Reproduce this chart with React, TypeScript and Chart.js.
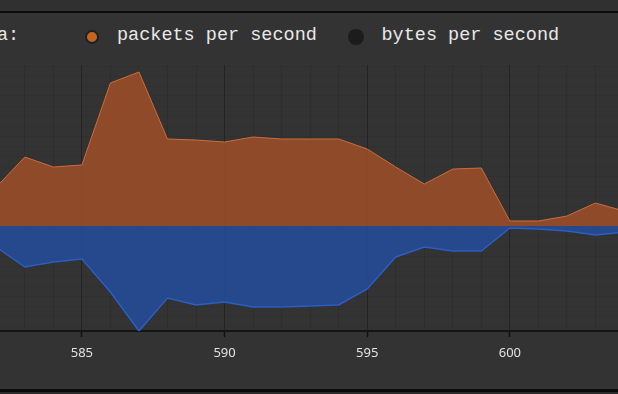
import React, { useEffect, useRef } from "react";
import { Chart, registerables } from "chart.js";

Chart.register(...registerables);

// time (seconds)
const seconds = [582, 583, 584, 585, 586, 587, 588, 589, 590, 591, 592, 593, 594, 595, 596, 597, 598, 599, 600, 601, 602, 603, 604];
// upper series
const packetsPerSecond = [39, 69, 59, 61, 143, 154, 87, 86, 84, 89, 87, 87, 87, 77, 59, 42, 57, 58, 5, 5, 10, 23, 15];
// lower series (drawn mirrored below zero)
const bytesPerSecond = [-21, -41, -36, -33, -66, -105, -72, -79, -76, -81, -81, -80, -79, -63, -31, -21, -25, -25, -2, -3, -5, -9, -6];

const xGridTicks = [583, 584, 585, 586, 587, 588, 589, 590, 591, 592, 593, 594, 595, 596, 597, 598, 599, 600, 601, 602, 603];
const xLabelTicks = [585, 590, 595, 600];
const yGridTicks = [-100, -90, -80, -70, -60, -50, -40, -30, -20, -10, 0, 10, 20, 30, 40, 50, 60, 70, 80, 90, 100, 110, 120, 130, 140, 150, 160];

const seriesLabels = ["packets per second", "bytes per second"];
const legendTitle = "a:";

export default function App() {
  const canvasRef = useRef<HTMLCanvasElement | null>(null);

  useEffect(() => {
    document.body.style.margin = "0";
    const canvas = canvasRef.current;
    if (!canvas) return;
    const chart = new Chart(canvas, {
      type: "line",
      data: {
        datasets: [
          {
            label: seriesLabels[0],
            data: seconds.map((s, i) => ({ x: s, y: packetsPerSecond[i] })),
            borderColor: "#c86e3e",
            borderWidth: 1,
            backgroundColor: "rgba(156,78,40,0.88)",
            fill: "origin",
            pointRadius: 0,
            tension: 0,
          },
          {
            label: seriesLabels[1],
            data: seconds.map((s, i) => ({ x: s, y: bytesPerSecond[i] })),
            borderColor: "#2b5fc2",
            borderWidth: 1.5,
            backgroundColor: "rgba(36,75,152,0.88)",
            fill: "origin",
            pointRadius: 0,
            tension: 0,
          },
        ],
      },
      options: {
        animation: false,
        responsive: false,
        maintainAspectRatio: false,
        layout: { padding: { top: 65, left: 0, right: 0, bottom: 0 } },
        plugins: { legend: { display: false }, tooltip: { enabled: false } },
        scales: {
          x: {
            type: "linear",
            min: 582.13,
            max: 603.79,
            afterBuildTicks: (scale: any) => {
              scale.ticks = xGridTicks.map((v) => ({ value: v }));
            },
            afterFit: (scale: any) => {
              scale.height = 63;
            },
            ticks: {
              autoSkip: false,
              maxRotation: 0,
              padding: 8,
              color: "#e2e2e2",
              font: { family: "'Noto Sans', sans-serif", size: 13 },
              callback: (v: any) => (xLabelTicks.includes(Number(v)) ? String(v) : ""),
            },
            grid: {
              color: (ctx: any) =>
                ctx.tick && xLabelTicks.includes(ctx.tick.value) ? "rgba(0,0,0,0.28)" : "rgba(0,0,0,0.09)",
              lineWidth: 1,
              drawTicks: true,
              tickLength: 6,
              tickWidth: 1.5,
              tickColor: (ctx: any) =>
                ctx.tick && xLabelTicks.includes(ctx.tick.value) ? "#111111" : "rgba(0,0,0,0)",
            },
            border: { display: true, color: "#141414", width: 2 },
          },
          y: {
            type: "linear",
            min: -105,
            max: 161,
            afterBuildTicks: (scale: any) => {
              scale.ticks = yGridTicks.map((v) => ({ value: v }));
            },
            afterFit: (scale: any) => {
              scale.width = 0;
            },
            ticks: { display: false },
            grid: { color: "rgba(0,0,0,0.06)", drawTicks: false, lineWidth: 1 },
            border: { display: false },
          },
        },
      },
    });
    return () => chart.destroy();
  }, []);

  const textStyle: React.CSSProperties = {
    position: "absolute",
    top: 26,
    fontFamily: "'Liberation Mono', monospace",
    fontSize: 18.5,
    lineHeight: "20px",
    color: "#e8e8e8",
    whiteSpace: "nowrap",
  };

  return (
    <div
      style={{
        position: "relative",
        width: 618,
        height: 394,
        overflow: "hidden",
        background: "#333333",
      }}
    >
      <div style={{ position: "absolute", left: 0, top: 0, width: 618, height: 11, background: "#303030" }} />
      <div style={{ position: "absolute", left: 0, top: 11, width: 618, height: 2, background: "#0c0c0c" }} />
      <div style={{ ...textStyle, left: -3 }}>{legendTitle}</div>
      <div
        style={{
          position: "absolute",
          left: 84.5,
          top: 29.5,
          width: 10,
          height: 10,
          borderRadius: "50%",
          background: "#c4651f",
          border: "2px solid #202020",
        }}
      />
      <div style={{ ...textStyle, left: 117 }}>{seriesLabels[0]}</div>
      <div
        style={{
          position: "absolute",
          left: 348,
          top: 29,
          width: 16,
          height: 16,
          borderRadius: "50%",
          background: "#1c1c1c",
        }}
      />
      <div style={{ ...textStyle, left: 381.5 }}>{seriesLabels[1]}</div>
      <canvas
        ref={canvasRef}
        width={618}
        height={394}
        style={{ position: "absolute", left: 0, top: 0, width: 618, height: 394 }}
      />
      <div style={{ position: "absolute", left: 0, top: 389, width: 618, height: 3, background: "#0a0a0a" }} />
      <div style={{ position: "absolute", left: 0, top: 392, width: 618, height: 2, background: "#2b2b2b" }} />
    </div>
  );
}
